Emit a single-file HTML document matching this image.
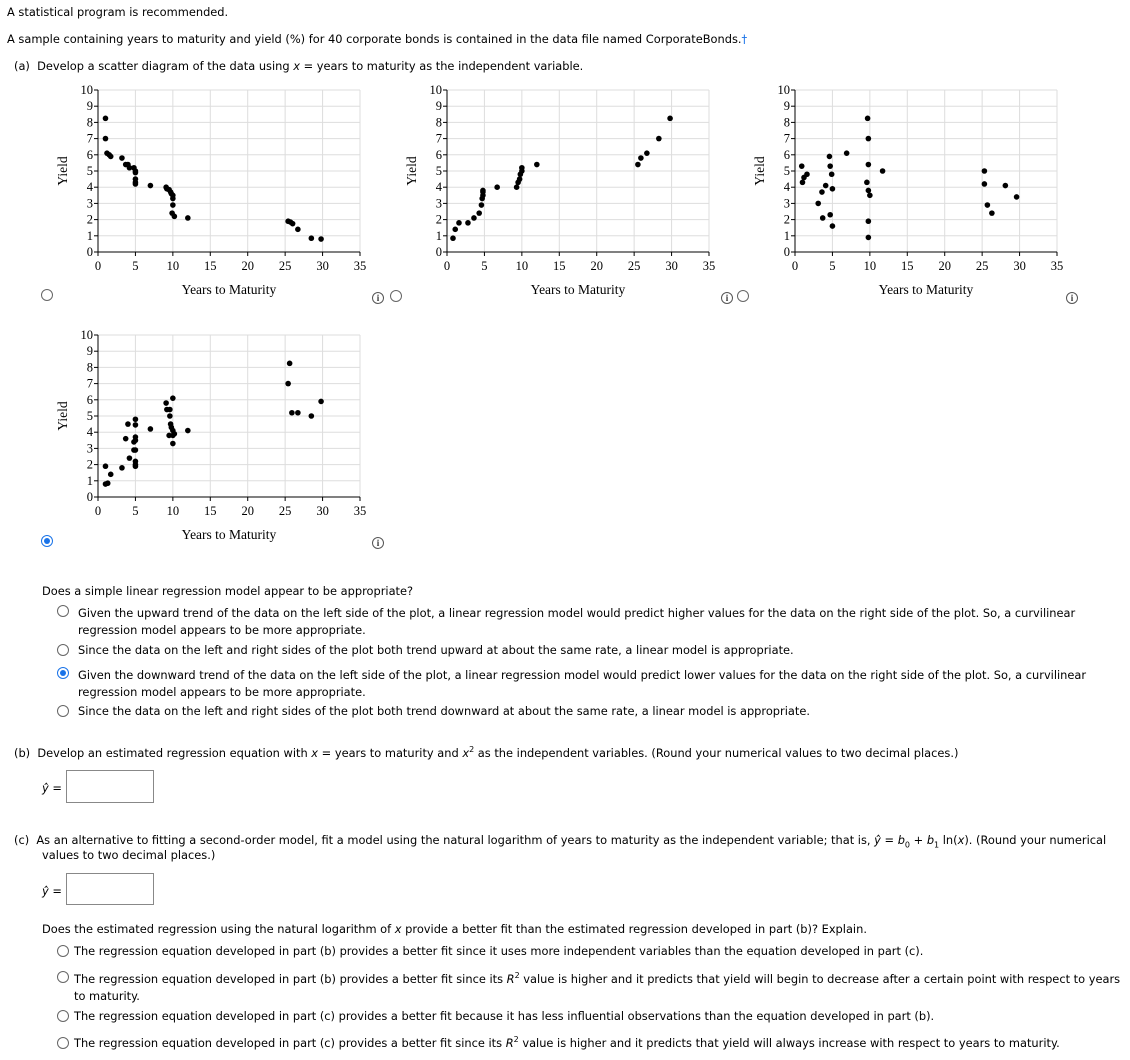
<!DOCTYPE html>
<html><head><meta charset="utf-8">
<style>
body{margin:0;width:1130px;height:1060px;background:#fff;position:relative;overflow:hidden;font-family:"DejaVu Sans","Liberation Sans",sans-serif;font-size:11.4px;color:#000}
.t{position:absolute;white-space:nowrap;line-height:13px}
sup,sub{line-height:0;font-size:8px}
.radio{position:absolute;width:10px;height:10px;border:1px solid #666;border-radius:50%;background:#fff}
.radio.sel{border-color:#1a73e8;background:#fff}
.radio.sel::after{content:"";position:absolute;left:2px;top:2px;width:6px;height:6px;border-radius:50%;background:#1a73e8}
.info{position:absolute;width:10px;height:10px;border:1px solid #555;border-radius:50%;font:bold 9px "Liberation Serif",serif;text-align:center;line-height:10px;color:#333}
.box{position:absolute;border:1px solid #888;background:#fff}
svg{position:absolute;left:0;top:0}
</style></head><body>
<div class="t" style="left:7px;top:6px">A statistical program is recommended.</div>
<div class="t" style="left:7px;top:33px">A sample containing years to maturity and yield (%) for 40 corporate bonds is contained in the data file named CorporateBonds.<span style="color:#1a73e8">†</span></div>
<div class="t" style="left:14px;top:60px">(a)&nbsp; Develop a scatter diagram of the data using <i>x</i> = years to maturity as the independent variable.</div>

<svg id="charts" width="1130" height="560"></svg>

<div class="radio" style="left:41px;top:289px"></div>
<div class="info" style="left:372px;top:292px">i</div>
<div class="radio" style="left:390px;top:290px"></div>
<div class="info" style="left:721px;top:292px">i</div>
<div class="radio" style="left:737px;top:290px"></div>
<div class="info" style="left:1066px;top:292px">i</div>
<div class="radio sel" style="left:41px;top:535px"></div>
<div class="info" style="left:372px;top:537px">i</div>

<div class="t" style="left:42px;top:585px">Does a simple linear regression model appear to be appropriate?</div>
<div class="radio" style="left:57px;top:605px"></div>
<div class="t" style="left:78px;top:605px;line-height:17px">Given the upward trend of the data on the left side of the plot, a linear regression model would predict higher values for the data on the right side of the plot. So, a curvilinear<br>regression model appears to be more appropriate.</div>
<div class="radio" style="left:57px;top:644px"></div>
<div class="t" style="left:78px;top:644px">Since the data on the left and right sides of the plot both trend upward at about the same rate, a linear model is appropriate.</div>
<div class="radio sel" style="left:57px;top:667px"></div>
<div class="t" style="left:78px;top:667px;line-height:17px">Given the downward trend of the data on the left side of the plot, a linear regression model would predict lower values for the data on the right side of the plot. So, a curvilinear<br>regression model appears to be more appropriate.</div>
<div class="radio" style="left:57px;top:705px"></div>
<div class="t" style="left:78px;top:705px">Since the data on the left and right sides of the plot both trend downward at about the same rate, a linear model is appropriate.</div>

<div class="t" style="left:14px;top:747px">(b)&nbsp; Develop an estimated regression equation with <i>x</i> = years to maturity and <i>x</i><sup>2</sup> as the independent variables. (Round your numerical values to two decimal places.)</div>
<div class="t" style="left:42px;top:782px"><i>ŷ</i> =</div>
<div class="box" style="left:66px;top:770px;width:86px;height:31px"></div>

<div class="t" style="left:14px;top:832px;line-height:17px">(c)&nbsp; As an alternative to fitting a second-order model, fit a model using the natural logarithm of years to maturity as the independent variable; that is, <i>ŷ</i> = <i>b</i><sub>0</sub> + <i>b</i><sub>1</sub> ln(<i>x</i>). (Round your numerical</div>
<div class="t" style="left:42px;top:849px">values to two decimal places.)</div>
<div class="t" style="left:42px;top:885px"><i>ŷ</i> =</div>
<div class="box" style="left:66px;top:873px;width:86px;height:30px"></div>

<div class="t" style="left:42px;top:923px">Does the estimated regression using the natural logarithm of <i>x</i> provide a better fit than the estimated regression developed in part (b)? Explain.</div>
<div class="radio" style="left:57px;top:945px"></div>
<div class="t" style="left:74px;top:945px">The regression equation developed in part (b) provides a better fit since it uses more independent variables than the equation developed in part (c).</div>
<div class="radio" style="left:57px;top:971px"></div>
<div class="t" style="left:74px;top:971px;line-height:17px">The regression equation developed in part (b) provides a better fit since its <i>R</i><sup>2</sup> value is higher and it predicts that yield will begin to decrease after a certain point with respect to years<br>to maturity.</div>
<div class="radio" style="left:57px;top:1010px"></div>
<div class="t" style="left:74px;top:1010px">The regression equation developed in part (c) provides a better fit because it has less influential observations than the equation developed in part (b).</div>
<div class="radio" style="left:57px;top:1037px"></div>
<div class="t" style="left:74px;top:1037px">The regression equation developed in part (c) provides a better fit since its <i>R</i><sup>2</sup> value is higher and it predicts that yield will always increase with respect to years to maturity.</div>

<script>
const xTicks=[0,5,10,15,20,25,30,35];
const yTicks=[0,1,2,3,4,5,6,7,8,9,10];
const xAxisTitle="Years to Maturity";
const yAxisTitle="Yield";
const c1x=[1,1,1.2,1.5,1.7,3.2,3.7,4,4.2,4.8,5,5,5,5,5,7,9.1,9.2,9.5,9.7,9.8,10,10,10,9.9,10.2,12,25.4,25.7,26,26.7,28.5,29.8];
const c1y=[8.25,7,6.1,6,5.9,5.8,5.4,5.4,5.2,5.2,5,4.9,4.5,4.3,4.2,4.1,4,3.9,3.85,3.7,3.6,3.5,3.3,2.9,2.4,2.2,2.1,1.9,1.85,1.75,1.4,0.85,0.8];
const c2x=[0.8,1.1,1.6,2.8,3.6,4.3,4.6,4.7,4.8,4.8,4.8,6.7,9.3,9.5,9.7,9.8,10,10,12,25.5,25.9,26.7,28.3,29.8];
const c2y=[0.85,1.4,1.8,1.8,2.1,2.4,2.9,3.3,3.5,3.7,3.8,4,4,4.3,4.5,4.8,5,5.2,5.4,5.4,5.8,6.1,7,8.25];
const c3x=[1,1.2,1.6,0.9,3.1,3.6,4.1,3.7,4.6,4.7,4.9,5,4.7,5,6.9,9.7,9.8,9.8,9.6,9.8,10,9.8,9.8,11.7,25.3,25.3,25.7,26.3,28.1,29.6];
const c3y=[4.3,4.6,4.8,5.3,3,3.7,4.1,2.1,5.9,5.3,4.8,3.9,2.3,1.6,6.1,8.25,7,5.4,4.3,3.8,3.5,1.9,0.9,5,5,4.2,2.9,2.4,4.1,3.4];
const c4x=[1,1,1.3,1.7,3.2,3.7,4,4.2,4.8,4.8,5,5,5,5,5,5,5,5,7,9.1,9.2,9.6,9.6,9.5,9.7,9.8,10,10,10,10,10.2,12,25.4,25.6,25.9,26.7,28.5,29.8];
const c4y=[1.9,0.8,0.85,1.4,1.8,3.6,4.5,2.4,2.9,3.4,4.8,4.45,3.7,3.5,2.9,2.2,2,1.9,4.2,5.8,5.4,5.4,5,3.8,4.5,4.3,6.1,4.1,3.8,3.3,3.9,4.1,7,8.25,5.2,5.2,5,5.9];

const NS="http://www.w3.org/2000/svg";
const svg=document.getElementById('charts');
function mk(tag,attrs,parent){const e=document.createElementNS(NS,tag);for(const k in attrs)e.setAttribute(k,attrs[k]);(parent||svg).appendChild(e);return e;}
function chart(ox,oy,xs,ys,idx){
  const W=262,H=162;
  const sx=v=>ox+v/35*W, sy=v=>oy-v/10*H;
  const g=mk('g',{});
  
  
  xTicks.forEach(t=>{ if(t>0){const l=mk('line',{x1:sx(t),x2:sx(t),y1:sy(10),y2:oy,stroke:'#ddd','stroke-width':1},g);}
    mk('line',{x1:sx(t),x2:sx(t),y1:oy,y2:oy+4,stroke:'#000'},g);
    const tx=mk('text',{x:sx(t),y:oy+18,'text-anchor':'middle','font-family':'Liberation Serif, serif','font-size':'12.5'},g);tx.textContent=t;
    });
  yTicks.forEach(t=>{ if(t>0){mk('line',{x1:ox,x2:ox+W,y1:sy(t),y2:sy(t),stroke:'#ddd'},g);}
    mk('line',{x1:ox-4,x2:ox,y1:sy(t),y2:sy(t),stroke:'#000'},g);
    const tx=mk('text',{x:ox-5,y:sy(t)+4,'text-anchor':'end','font-family':'Liberation Serif, serif','font-size':'12.5'},g);tx.textContent=t;
    });
  const xa=mk('line',{x1:ox,x2:ox+W,y1:oy,y2:oy,stroke:'#000'},g);
  
  const ya=mk('line',{x1:ox,x2:ox,y1:sy(10),y2:oy,stroke:'#000'},g);
  
  const xt=mk('text',{x:ox+W/2,y:oy+42,'text-anchor':'middle','font-family':'Liberation Serif, serif','font-size':'13.5'},g);xt.textContent=xAxisTitle;
  
  const yt=mk('text',{x:0,y:0,'text-anchor':'middle','font-family':'Liberation Serif, serif','font-size':'13.5',transform:`translate(${ox-31},${oy-H/2}) rotate(-90)`},g);yt.textContent=yAxisTitle;
  
  xs.forEach((v,i)=>{const c=mk('circle',{cx:sx(v),cy:sy(ys[i]),r:2.8,fill:'#000'},g);
    });
}
chart(98,252,c1x,c1y,1);
chart(447,252,c2x,c2y,2);
chart(795,252,c3x,c3y,3);
chart(98,497,c4x,c4y,4);
</script>
</body></html>
